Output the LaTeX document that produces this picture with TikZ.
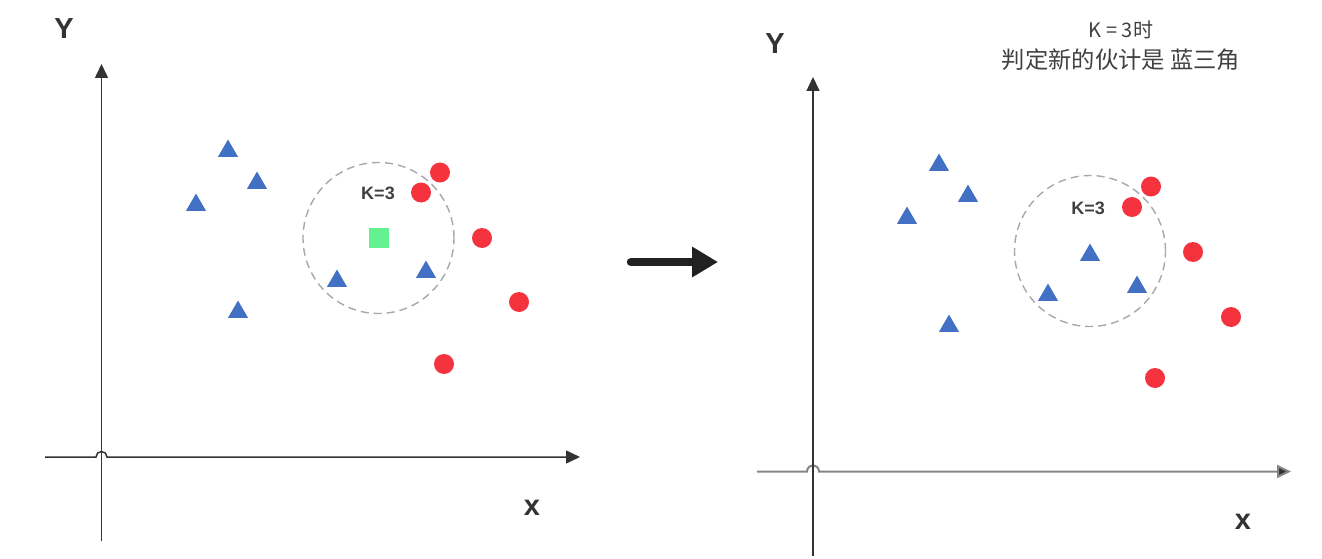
\documentclass[tikz,border=0pt]{standalone}
\usepackage{fontspec}
\setmainfont{Liberation Sans}
\newfontfamily\cjk{Noto Sans CJK SC}
\usetikzlibrary{shapes.geometric,arrows.meta}
\definecolor{axisdark}{HTML}{333333}
\definecolor{axisgray}{HTML}{858585}
\definecolor{dotred}{HTML}{F5333F}
\definecolor{triblue}{HTML}{4170C4}
\definecolor{sqgreen}{HTML}{63F28F}
\definecolor{dashgray}{HTML}{A8A8A8}
\definecolor{txtgray}{HTML}{404040}
\tikzset{
  reddot/.style={circle,fill=dotred,inner sep=0pt,minimum size=20pt},
  bluetri/.style={regular polygon,regular polygon sides=3,fill=triblue,inner sep=0pt,minimum size=23pt},
  greensq/.style={rectangle,fill=sqgreen,inner sep=0pt,minimum size=20pt},
  kring/.style={circle,draw=dashgray,line width=1.4pt,dash pattern=on 8pt off 5pt,inner sep=0pt,minimum size=151pt},
  axislabel/.style={font=\bfseries\fontsize{29}{34}\selectfont,text=axisdark,inner sep=0pt},
  klabel/.style={font=\bfseries\fontsize{18}{22}\selectfont,text=txtgray,inner sep=0pt},
  axisarrow/.style={-{Triangle[length=14pt,width=13pt]},line width=1.5pt},
}
\begin{document}
\begin{tikzpicture}[x=1pt,y=-1pt]
\useasboundingbox (0,0) rectangle (1322,559);
% ---------- left panel ----------
\coordinate (LYb) at (101.5,541);
\coordinate (LYt) at (101.5,64);
\coordinate (LXl) at (45,457);
\coordinate (LXh) at (96,457);
\coordinate (LXr) at (580,457);
\draw[axisarrow,draw=axisdark,fill=axisdark] (LYb) -- (LYt);
\draw[axisarrow,draw=axisdark] (LXl) -- (LXh) arc[start angle=180,end angle=360,radius=5.5] -- (LXr);
\node[axislabel] (LY) at (64,29) {Y};
\node[axislabel] (LX) at (532,508) {x};

\node[kring] (Lring) at (378.5,238) {};
\node[klabel] (Lk) at (378,193) {K=3};
\node[greensq] (Lsq) at (379,237.5) {};

\node[reddot] (Lr1) at (440,172.5) {};
\node[reddot] (Lr2) at (421,192.5) {};
\node[reddot] (Lr3) at (482,238) {};
\node[reddot] (Lr4) at (519,302) {};
\node[reddot] (Lr5) at (444,364) {};

\node[bluetri] (Lt1) at (228,151) {};
\node[bluetri] (Lt2) at (257,183) {};
\node[bluetri] (Lt3) at (196,205) {};
\node[bluetri] (Lt4) at (238,312) {};
\node[bluetri] (Lt5) at (337,281) {};
\node[bluetri] (Lt6) at (426,272) {};

% ---------- arrow ----------
\coordinate (Aa) at (631,262);
\coordinate (Ab) at (718,262);
\draw[line width=8.5pt,line cap=round,draw=black!87,-{Triangle[length=26pt,width=29pt]}] (Aa) -- (Ab);

% ---------- right panel ----------
\coordinate (RYb) at (813,556);
\coordinate (RYt) at (813,77);
\coordinate (RXl) at (757,471.5);
\coordinate (RXh) at (807,471.5);
\coordinate (RXr) at (1291,471.5);
\draw[axisarrow,draw=axisgray,line width=2pt,-{Triangle[length=14pt,width=13pt,fill=axisdark]}] (RXl) -- (RXh) arc[start angle=180,end angle=360,radius=6] -- (RXr);
\draw[axisarrow,draw=axisdark] (RYb) -- (RYt);
\node[axislabel] (RY) at (775,44) {Y};
\node[axislabel] (RX) at (1243,522) {x};

\node[font=\cjk\fontsize{20}{24}\selectfont,text=txtgray,inner sep=0pt] (T1) at (1121,30) {K = 3时};
\node[font=\cjk\fontsize{23.3}{28}\selectfont,text=txtgray,inner sep=0pt] (T2) at (1121,60) {判定新的伙计是 蓝三角};

\node[kring] (Rring) at (1090,251) {};
\node[klabel] (Rk) at (1088,208) {K=3};

\node[reddot] (Rr1) at (1151,186.5) {};
\node[reddot] (Rr2) at (1132,207) {};
\node[reddot] (Rr3) at (1193,252) {};
\node[reddot] (Rr4) at (1231,317) {};
\node[reddot] (Rr5) at (1155,378) {};

\node[bluetri] (Rt1) at (939,165) {};
\node[bluetri] (Rt2) at (968,196) {};
\node[bluetri] (Rt3) at (907,218) {};
\node[bluetri] (Rt4) at (949,326) {};
\node[bluetri] (Rt5) at (1048,295) {};
\node[bluetri] (Rt6) at (1137,287) {};
\node[bluetri] (Rt7) at (1090,255) {};
\end{tikzpicture}
\end{document}
